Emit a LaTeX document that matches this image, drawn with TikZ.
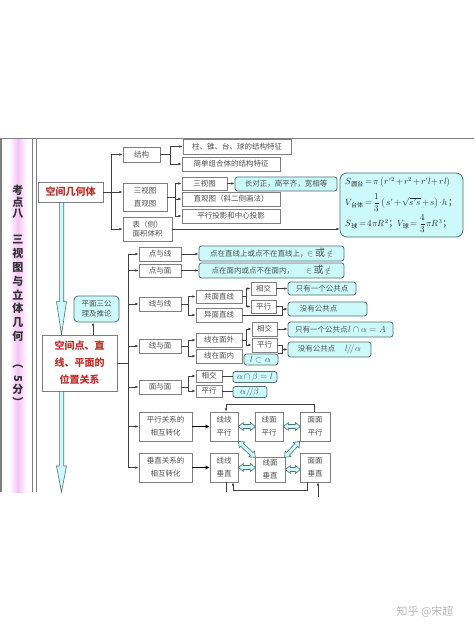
\documentclass[tikz,border=0pt]{standalone}
\usepackage{fontspec}
\usepackage{amsmath}
\usepackage{unicode-math}
\setmainfont{Noto Sans CJK SC}
\usetikzlibrary{arrows.meta,calc}
\definecolor{bxline}{HTML}{7F7F7F}
\definecolor{bxtext}{HTML}{505050}
\definecolor{cyfill}{HTML}{CCFAFA}
\definecolor{cyline}{HTML}{4F6F6F}
\definecolor{redt}{HTML}{C0302A}
\definecolor{conn}{HTML}{404040}
\definecolor{pinkc}{RGB}{245,195,245}
\tikzset{
 bx/.style={draw=bxline, line width=0.8pt, fill=white, inner sep=0pt, text=bxtext, font=\fontsize{7.5}{13}\selectfont, align=center},
 cy/.style={draw=cyline, line width=0.8pt, fill=cyfill, rounded corners=2.5pt, inner sep=0pt, text=bxtext, font=\fontsize{7.5}{9}\selectfont},
 ttl/.style={draw=bxline, line width=0.8pt, fill=white, inner sep=0pt, text=redt, font=\fontsize{10}{17}\selectfont\bfseries, align=center},
 ln/.style={draw=conn, line width=0.6pt},
 ar/.style={ln, -{Latex[length=3.2pt,width=2.6pt]}},
 thk/.style={draw=black, line width=1.6pt, -{Latex[length=4pt,width=4.5pt]}},
 hol/.style={draw=cyline, line width=0.6pt, fill=cyfill},
 vt/.style={font=\fontsize{11}{11}\selectfont\bfseries, text=black!80, inner sep=0pt},
 mth/.style={font=\fontsize{9}{9}\selectfont},
}
\newcommand{\dblhol}[3]{%
 \begin{scope}[shift={(#1)}, rotate=#2]
 \draw[hol] (0,0) -- (5,4) -- (5,2) -- (#3-5,2) -- (#3-5,4) -- (#3,0) -- (#3-5,-4) -- (#3-5,-2) -- (5,-2) -- (5,-4) -- cycle;
 \end{scope}}
\newcommand{\inor}{{\fontsize{9}{9}\selectfont$\in$}\hspace{1.5pt}{\fontsize{10}{10}\selectfont 或}\hspace{2pt}{\fontsize{9}{9}\selectfont$\notin$}}
\newcommand{\tightmath}{\medmuskip=2mu\relax\thickmuskip=3mu\relax}
\begin{document}
\begin{tikzpicture}[x=1pt,y=-1pt]
\useasboundingbox (0,0) rectangle (474,631);
% left panel
\shade[left color=white, right color=white, middle color=pinkc] (9,139) rectangle (27,492);
\draw[bxline, line width=1.2pt] (1,138) -- (1,492);
\draw[bxline, line width=1.2pt] (32.5,138) -- (32.5,492);
\draw[bxline, line width=1pt] (36.5,138) -- (36.5,492);
\draw[bxline, line width=0.8pt] (0,138) -- (474,138);
% vertical title
\node[vt] (t1) at (18,190.5) {考};
\node[vt] (t2) at (18,202.3) {点};
\node[vt] (t3) at (18,214.1) {八};
\node[vt] (t4) at (18,239.5) {三};
\node[vt] (t5) at (18,253.3) {视};
\node[vt] (t6) at (18,267.1) {图};
\node[vt] (t7) at (18,280.9) {与};
\node[vt] (t8) at (18,294.7) {立};
\node[vt] (t9) at (18,308.5) {体};
\node[vt] (t10) at (18,322.3) {几};
\node[vt] (t11) at (18,336.1) {何};
\node[vt] (t12) at (18,366.5) {︵};
\node[vt, rotate=-90] (t13) at (18,379) {5};
\node[vt] (t14) at (18,389) {分};
\node[vt] (t15) at (18,401.5) {︶};
% section 1
\node[ttl, minimum width=65pt, minimum height=20pt] (kj) at (70.5,192) {空间几何体};
\node[bx, minimum width=37pt, minimum height=15pt] (jg) at (141.5,154.5) {结构};
\node[bx, minimum width=44pt, minimum height=28pt] (sst) at (145,197) {三视图\\直观图};
\node[bx, minimum width=49pt, minimum height=24pt, font=\fontsize{7.5}{9}\selectfont] (bmj) at (147.5,229) {表（侧）\\面积体积};
\node[bx, minimum width=108pt, minimum height=15pt] (zzt) at (237,146.5) {柱、锥、台、球的结构特征};
\node[bx, minimum width=98pt, minimum height=14pt] (jdz) at (231,164) {简单组合体的结构特征};
\node[bx, minimum width=45pt, minimum height=13pt] (sv) at (204.5,183.5) {三视图};
\node[cy, minimum width=102pt, minimum height=14pt] (cz) at (286,184) {长对正，高平齐，宽相等};
\node[bx, minimum width=98pt, minimum height=14pt] (zgt) at (231,199) {直观图（斜二侧画法）};
\node[bx, minimum width=98pt, minimum height=14pt] (pxty) at (231,216) {平行投影和中心投影};
\node[cy, rounded corners=7pt, minimum width=123pt, minimum height=64pt, align=left, text=black!85, font=\fontsize{9}{21}\selectfont] (fb) at (401.5,205) {$\tightmath S_{\text{圆台}}=\pi\left(r'^{2}+r^{2}+r'l+rl\right)$\\$\tightmath V_{\text{台体}}=\dfrac{1}{3}\left(s'+\sqrt{s's}+s\right)\cdot h$；\\$\tightmath S_{\text{球}}=4\pi R^{2}$；$\tightmath V_{\text{球}}=\dfrac{4}{3}\pi R^{3}$；};
\coordinate (jx1) at (111,0);
\coordinate (jx2) at (170,0);
\coordinate (jx3) at (175,0);
\draw[ln] (kj.east) -- (kj.east -| jx1);
\draw[ln] (jg.west -| jx1) -- (bmj.west -| jx1);
\draw[ar] (jg.west -| jx1) -- (jg.west);
\draw[ar] (kj.east -| jx1) -- (kj.east -| sst.west);
\draw[ar] (bmj.west -| jx1) -- (bmj.west);
\draw[ln] (jg.east) -- (jg.east -| jx2);
\draw[ln] (zzt.west -| jx2) -- (jdz.west -| jx2);
\draw[ar] (zzt.west -| jx2) -- (zzt.west);
\draw[ar] (jdz.west -| jx2) -- (jdz.west);
\draw[ln] (sst.east) -- (sst.east -| jx3);
\draw[ln] (sv.west -| jx3) -- (pxty.west -| jx3);
\draw[ar] (sv.west -| jx3) -- (sv.west);
\draw[ar] (zgt.west -| jx3) -- (zgt.west);
\draw[ar] (pxty.west -| jx3) -- (pxty.west);
\draw[ar] (sv.east) -- (sv.east -| cz.west);
\draw[ar] (bmj.east) -- (bmj.east -| fb.west);
% section 2
\node[ttl, minimum width=75pt, minimum height=56pt] (kd) at (79.5,363) {空间点、直\\线、平面的\\位置关系};
\node[cy, rounded corners=4pt, minimum width=45pt, minimum height=26pt, align=center, font=\fontsize{7.5}{10}\selectfont] (gl) at (96.5,309) {平面三公\\理及推论};
\coordinate (glx) at (93,0);
\draw[ar] (kd.north -| glx) -- (gl.south -| glx);
% hollow arrows
\coordinate (hx) at (61.5,0);
\coordinate (hs1) at (kj.south -| hx);
\coordinate (he1) at (kd.north -| hx);
\draw[hol] ($(hs1)+(-2.2,0)$) -- ($(he1)+(-2.2,-33)$) -- ($(he1)+(-5,-33)$) -- (he1) -- ($(he1)+(5,-33)$) -- ($(he1)+(2.2,-33)$) -- ($(hs1)+(2.2,0)$) -- cycle;
\coordinate (hs2) at (kd.south -| hx);
\coordinate (he2) at (61.5,492);
\draw[hol] ($(hs2)+(-2.2,0)$) -- ($(he2)+(-2.2,-26)$) -- ($(he2)+(-5,-26)$) -- (he2) -- ($(he2)+(5,-26)$) -- ($(he2)+(2.2,-26)$) -- ($(hs2)+(2.2,0)$) -- cycle;
% left boxes
\node[bx, minimum width=42pt, minimum height=14pt] (dyx) at (160,254) {点与线};
\node[cy, minimum width=145pt, minimum height=15pt] (c1) at (271.5,253.5) {点在直线上或点不在直线上，\inor};
\node[bx, minimum width=42pt, minimum height=13pt] (dym) at (160,270.5) {点与面};
\node[cy, minimum width=145pt, minimum height=15pt] (c2) at (271.5,270.5) {点在面内或点不在面内，\hspace{12pt}\inor};
\node[bx, minimum width=42pt, minimum height=14pt] (xyx) at (160,304) {线与线};
\node[bx, minimum width=46pt, minimum height=13pt] (gm) at (219,296.5) {共面直线};
\node[bx, minimum width=46pt, minimum height=14pt] (ym) at (219,315) {异面直线};
\node[bx, minimum width=25pt, minimum height=13pt] (xj1) at (263.5,288.5) {相交};
\node[bx, minimum width=25pt, minimum height=13pt] (px1) at (263.5,306.5) {平行};
\node[cy, minimum width=68pt, minimum height=13pt] (c3) at (322,288.5) {只有一个公共点};
\node[cy, minimum width=79pt, minimum height=14pt] (c4) at (327.5,309) {\hspace{-18pt}没有公共点};
\node[bx, minimum width=42pt, minimum height=14pt] (xym) at (160,346) {线与面};
\node[bx, minimum width=46pt, minimum height=14pt] (zw) at (219,340) {线在面外};
\node[bx, minimum width=46pt, minimum height=14pt] (zn) at (219,356) {线在面内};
\node[bx, minimum width=25pt, minimum height=14pt] (xj2) at (264.5,329) {相交};
\node[bx, minimum width=25pt, minimum height=14pt] (px2) at (264.5,345) {平行};
\node[cy, minimum width=105pt, minimum height=15pt] (c5) at (340.5,329.5) {只有一个公共点\,{\fontsize{9}{9}\selectfont$l\cap\alpha=A$}};
\node[cy, minimum width=83pt, minimum height=15pt] (c6) at (329.5,349.5) {没有公共点\hspace{10pt}{\fontsize{9}{9}\selectfont$l/\!/\alpha$}};
\node[cy, minimum width=34pt, minimum height=11pt, mth] (c7) at (261,359.5) {$l\subset\alpha$};
\node[bx, minimum width=42pt, minimum height=14pt] (mym) at (160,387) {面与面};
\node[bx, minimum width=26pt, minimum height=12pt] (xj3) at (209,376) {相交};
\node[bx, minimum width=26pt, minimum height=12pt] (px3) at (209,391) {平行};
\node[cy, minimum width=44pt, minimum height=11pt, mth] (c8) at (255,377) {$\alpha\cap\beta=l$};
\node[cy, minimum width=34pt, minimum height=11pt, mth] (c9) at (250,392) {$\alpha/\!/\beta$};
\node[bx, minimum width=53pt, minimum height=29pt] (pxz) at (165.5,426.5) {平行关系的\\相互转化};
\node[bx, minimum width=53pt, minimum height=29pt] (czz) at (165.5,467.5) {垂直关系的\\相互转化};
\node[bx, minimum width=28pt, minimum height=29pt] (xxp) at (224,426.5) {线线\\平行};
\node[bx, minimum width=28pt, minimum height=29pt] (xmp) at (269,426.5) {线面\\平行};
\node[bx, minimum width=30pt, minimum height=29pt] (mmp) at (315,426.5) {面面\\平行};
\node[bx, minimum width=28pt, minimum height=29pt] (xxc) at (224,467.5) {线线\\垂直};
\node[bx, minimum width=30pt, minimum height=25pt] (xmc) at (270,469.5) {线面\\垂直};
\node[bx, minimum width=30pt, minimum height=29pt] (mmc) at (315,467.5) {面面\\垂直};
% trunk
\coordinate (tx) at (128,0);
\draw[ln] (kd.east) -- (kd.east -| tx);
\draw[ln] (dyx.west -| tx) -- (czz.west -| tx);
\foreach \n in {dyx,dym,xyx,xym,mym,pxz,czz} {\draw[ar] (\n.west -| tx) -- (\n.west);}
\draw[ar] (dyx.east) -- (dyx.east -| c1.west);
\draw[ar] (dym.east) -- (dym.east -| c2.west);
% line-line
\coordinate (bx1) at (188,0);
\coordinate (bx2) at (246,0);
\coordinate (bx3) at (282,0);
\draw[ln] (xyx.east) -- (xyx.east -| bx1);
\draw[ln] (gm.west -| bx1) -- (ym.west -| bx1);
\draw[ar] (gm.west -| bx1) -- (gm.west);
\draw[ar] (ym.west -| bx1) -- (ym.west);
\draw[ln] (gm.east) -- (gm.east -| bx2);
\draw[ln] (xj1.west -| bx2) -- (px1.west -| bx2);
\draw[ar] (xj1.west -| bx2) -- (xj1.west);
\draw[ar] (px1.west -| bx2) -- (px1.west);
\draw[ar] (xj1.east) -- (xj1.east -| c3.west);
\draw[ln] (px1.east) -- (px1.east -| bx3) -- (ym.east -| bx3) -- (ym.east);
\draw[ar] (c4.west -| bx3) -- (c4.west);
% line-plane
\draw[ln] (xym.east) -- (xym.east -| bx1);
\draw[ln] (zw.west -| bx1) -- (zn.west -| bx1);
\draw[ar] (zw.west -| bx1) -- (zw.west);
\draw[ar] (zn.west -| bx1) -- (zn.west);
\draw[ln] (zw.east) -- (zw.east -| bx2);
\draw[ln] (xj2.west -| bx2) -- (px2.west -| bx2);
\draw[ar] (xj2.west -| bx2) -- (xj2.west);
\draw[ar] (px2.west -| bx2) -- (px2.west);
\draw[ar] (xj2.east) -- (xj2.east -| c5.west);
\draw[ln] (px2.east) -- (px2.east -| bx3) -- (c7.north east -| bx3) -- (c7.north east);
\draw[ar] (c6.west -| bx3) -- (c6.west);
% plane-plane
\draw[ln] (mym.east) -- (mym.east -| bx1);
\draw[ln] (xj3.west -| bx1) -- (px3.west -| bx1);
\draw[ar] (xj3.west -| bx1) -- (xj3.west);
\draw[ar] (px3.west -| bx1) -- (px3.west);
\draw[ln] (xj3.east) -- (xj3.east -| c8.west);
\draw[ln] (px3.east) -- (px3.east -| c9.west);
% transformations
\draw[thk] (pxz.east) -- (xxp.west);
\draw[thk] (czz.east) -- (xxc.west);
\dblhol{xxp.east}{0}{17}
\dblhol{xmp.east}{0}{17}
\dblhol{xxc.east}{0}{17}
\dblhol{xmc.east}{0}{15}
\dblhol{xxp.south east}{-43.3}{23.3}
\dblhol{mmp.south west}{-133.15}{21.9}
\coordinate (f1) at (314,404);
\coordinate (f2) at (226,404);
\draw[ln] (mmp.north -| f1) -- (f1) -- (f2);
\draw[ar] (f2) -- (xxp.north -| f2);
\coordinate (b1) at (226,492);
\draw[ln] (xxc.south -| b1) -- (b1);
\coordinate (b2) at (233,490);
\coordinate (b3) at (307,490);
\draw[ar] (mmc.south -| b3) -- (b3) -- (b2) -- (xxc.south -| b2);
\coordinate (b4) at (318,497);
\draw[ar] (b4) -- (mmc.south -| b4);
% watermark
\node[font=\fontsize{11}{11}\selectfont, text=black!28, inner sep=0pt] (wm) at (425,612) {知乎 @宋超};
\end{tikzpicture}
\end{document}
